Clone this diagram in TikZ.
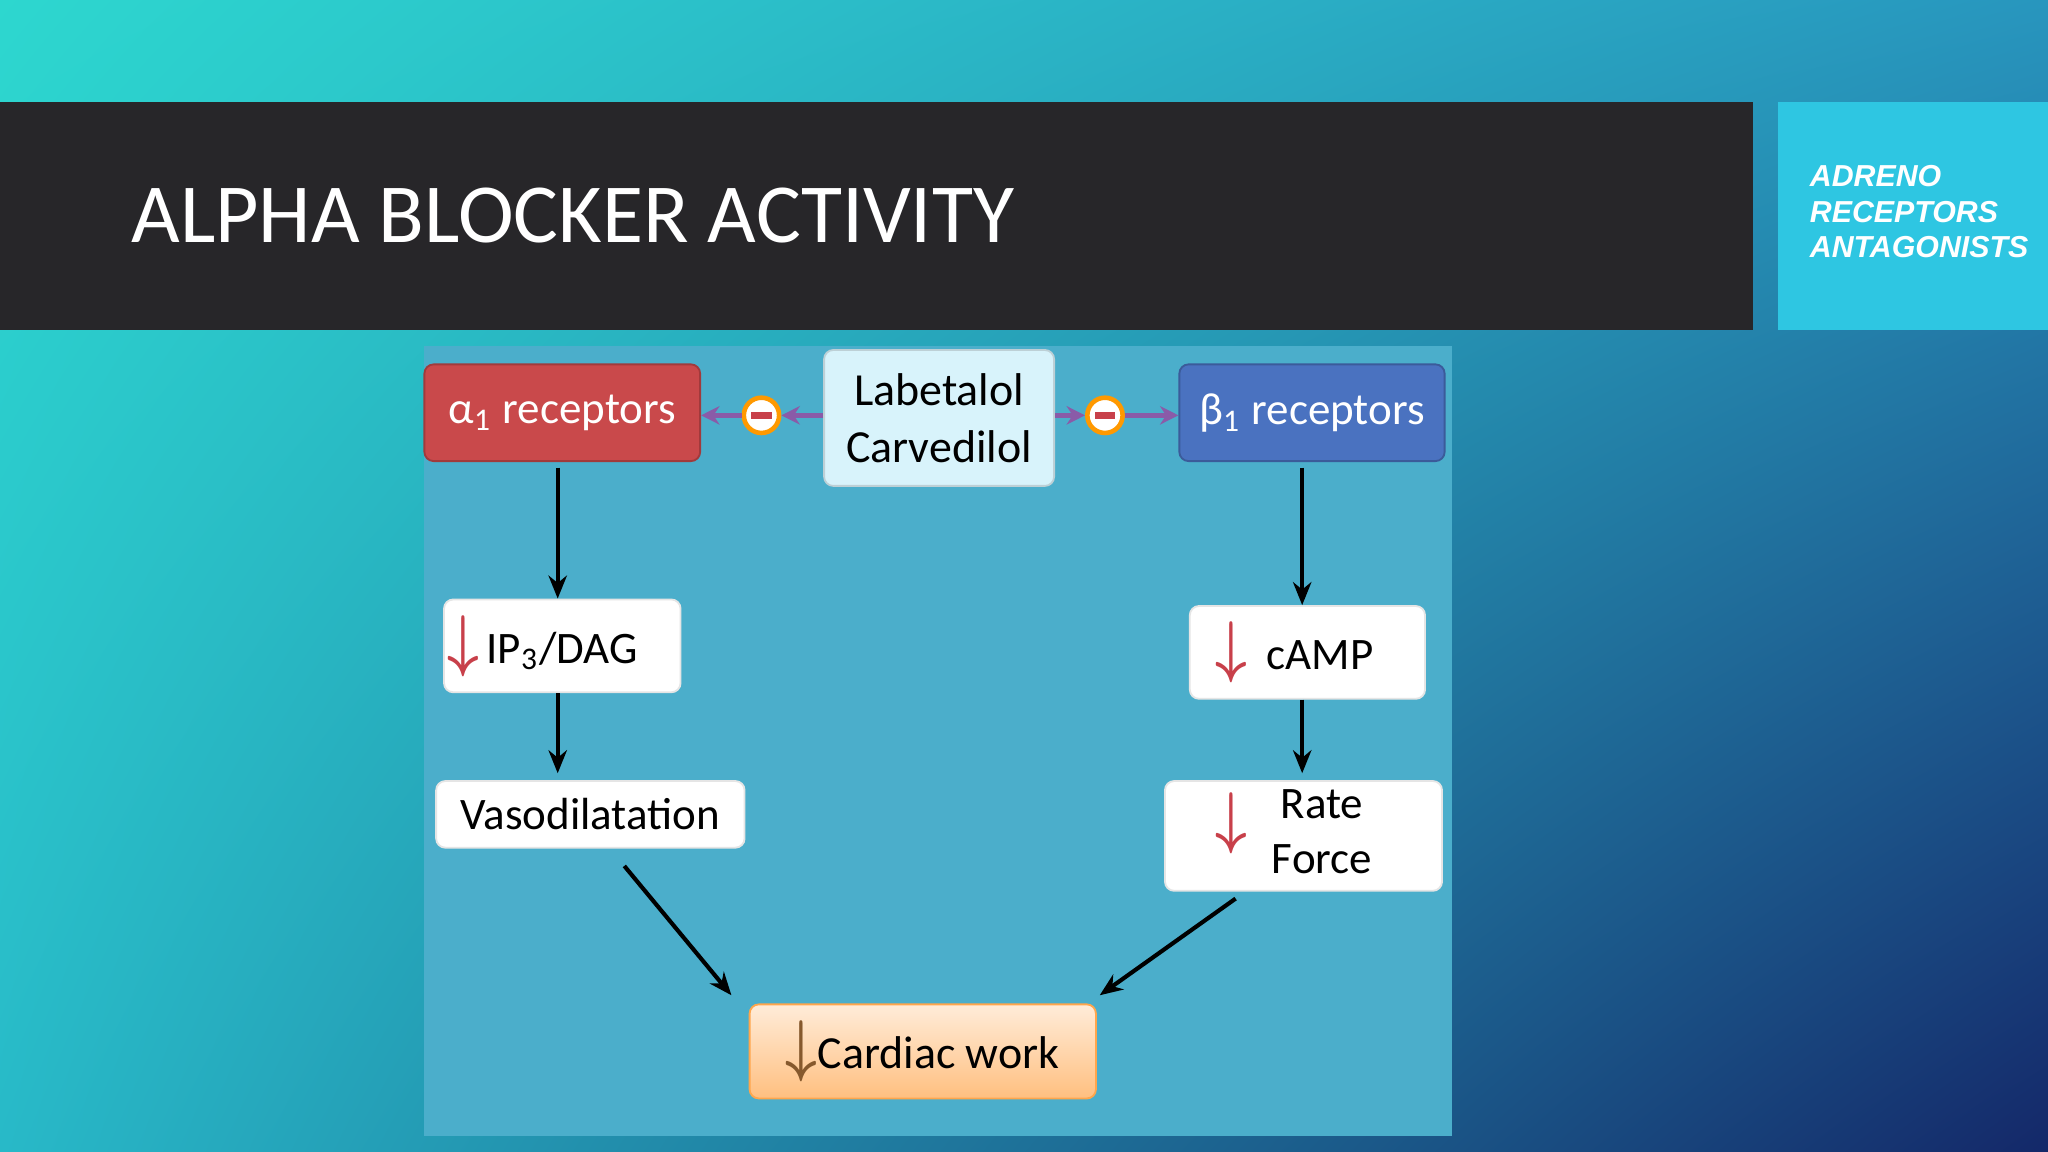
\documentclass[tikz,border=0pt]{standalone}
\usepackage{fontspec}
\setmainfont{Carlito}
\newfontfamily\arialf{Liberation Sans}
\usetikzlibrary{arrows.meta,shadings}
\definecolor{bar}{HTML}{272629}
\definecolor{side}{HTML}{2EC6E2}
\definecolor{panel}{HTML}{4BAECB}
\definecolor{redbox}{HTML}{C9494B}
\definecolor{bluebox}{HTML}{4A72C0}
\definecolor{lab}{HTML}{D8F3FB}
\definecolor{darr}{HTML}{C8404A}
\definecolor{purp}{HTML}{8A5BA8}
\definecolor{bgul}{HTML}{2DD7CF}
\definecolor{bgur}{HTML}{2896BE}
\definecolor{bgll}{HTML}{28B9C8}
\definecolor{bglr}{HTML}{142869}
\tikzset{
 box/.style={rectangle, rounded corners=2pt, fill=white, draw=white!80!gray, line width=0.4pt, font=\fontsize{9.8}{11}\selectfont, align=center, inner sep=0pt},
 flow/.style={-{Stealth[length=5pt,width=4pt]}, line width=0.9pt, black},
 inh/.style={-{Stealth[length=4pt,width=4pt]}, line width=1pt, purp},
 minus/.style={circle, fill=white, draw=orange!80!yellow, line width=1pt, minimum size=0.27cm, inner sep=0pt,
   path picture={\fill[darr] ([xshift=-0.08cm,yshift=-0.025cm]path picture bounding box.center) rectangle ([xshift=0.08cm,yshift=0.025cm]path picture bounding box.center);}},
}
\newcommand{\dnarr}{\textcolor{darr}{\scalebox{1.2}[1.5]{$\boldsymbol{\downarrow}$}}}
\usepackage{amsmath}
\begin{document}
\begin{tikzpicture}[x=0.01cm,y=-0.01cm]
\useasboundingbox (0,0) rectangle (1568,882);
\shade[upper left=bgul, upper right=bgur, lower left=bgll, lower right=bglr] (0,0) rectangle (1568,882);
\fill[bar] (0,78) rectangle (1342,253);
\fill[side] (1361,78) rectangle (1568,253);
\node[anchor=west, text=white, inner sep=0pt, font=\fontsize{18.3}{22}\selectfont] (title) at (100,165) {ALPHA BLOCKER ACTIVITY};
\node[anchor=west, text=white, align=left, inner sep=0pt, font=\arialf\bfseries\itshape\fontsize{6.6}{7.8}\selectfont] (sidet) at (1385,162) {ADRENO\\RECEPTORS\\ANTAGONISTS};
\fill[panel] (325,265) rectangle (1112,870);
\node[box, fill=redbox, draw=redbox!80!black, text=white, minimum width=2.11cm, minimum height=0.74cm] (a1) at (430.5,316) {α\textsubscript{1} receptors};
\node[box, fill=lab, draw=lab!70!gray, minimum width=1.76cm, minimum height=1.04cm, font=\fontsize{10}{12.5}\selectfont] (lab) at (719,320) {Labetalol\\Carvedilol};
\node[box, fill=bluebox, draw=bluebox!80!black, text=white, minimum width=2.03cm, minimum height=0.74cm] (b1) at (1004.5,316) {β\textsubscript{1} receptors};
\node[minus] (m1) at (583,318) {};
\node[minus] (m2) at (846,318) {};
\draw[inh] (lab.west |- m1) -- (m1);
\draw[inh] (m1) -- (a1.east |- m1);
\draw[inh] (lab.east |- m2) -- (m2);
\draw[inh] (m2) -- (b1.west |- m2);
\node[box, minimum width=1.81cm, minimum height=0.71cm] (ip) at (430.5,494.5) {\dnarr\,IP\textsubscript{3}/DAG\hspace{0.3cm}};
\node[box, minimum width=1.80cm, minimum height=0.71cm] (camp) at (1001,499.5) {\dnarr\;\,cAMP\hspace{0.2cm}};
\node[box, minimum width=2.36cm, minimum height=0.51cm] (vaso) at (452,623.5) {Vasodilatation};
\node[box, minimum width=2.12cm, minimum height=0.84cm] (rate) at (998,640) {\raisebox{0.05cm}{\dnarr}\;\;\begin{tabular}{@{}c@{}}Rate\\[1pt]Force\end{tabular}\hspace{0.15cm}};
\node[box, top color=orange!15, bottom color=orange!50, draw=orange!70, minimum width=2.65cm, minimum height=0.72cm, font=\fontsize{10}{12}\selectfont] (cw) at (706.5,805) {\textcolor{brown!70!black}{\scalebox{1.2}[1.5]{$\boldsymbol{\downarrow}$}}Cardiac work};
\draw[flow] (427,358) -- (ip.north -| 427,0);
\draw[flow] (ip.south -| 427,0) -- (427,592);
\draw[flow] (997,358) -- (camp.north -| 997,0);
\draw[flow] (camp.south -| 997,0) -- (997,592);
\draw[flow] (478,663) -- (560,762);
\draw[flow] (946,688) -- (842,762);
\end{tikzpicture}
\end{document}
